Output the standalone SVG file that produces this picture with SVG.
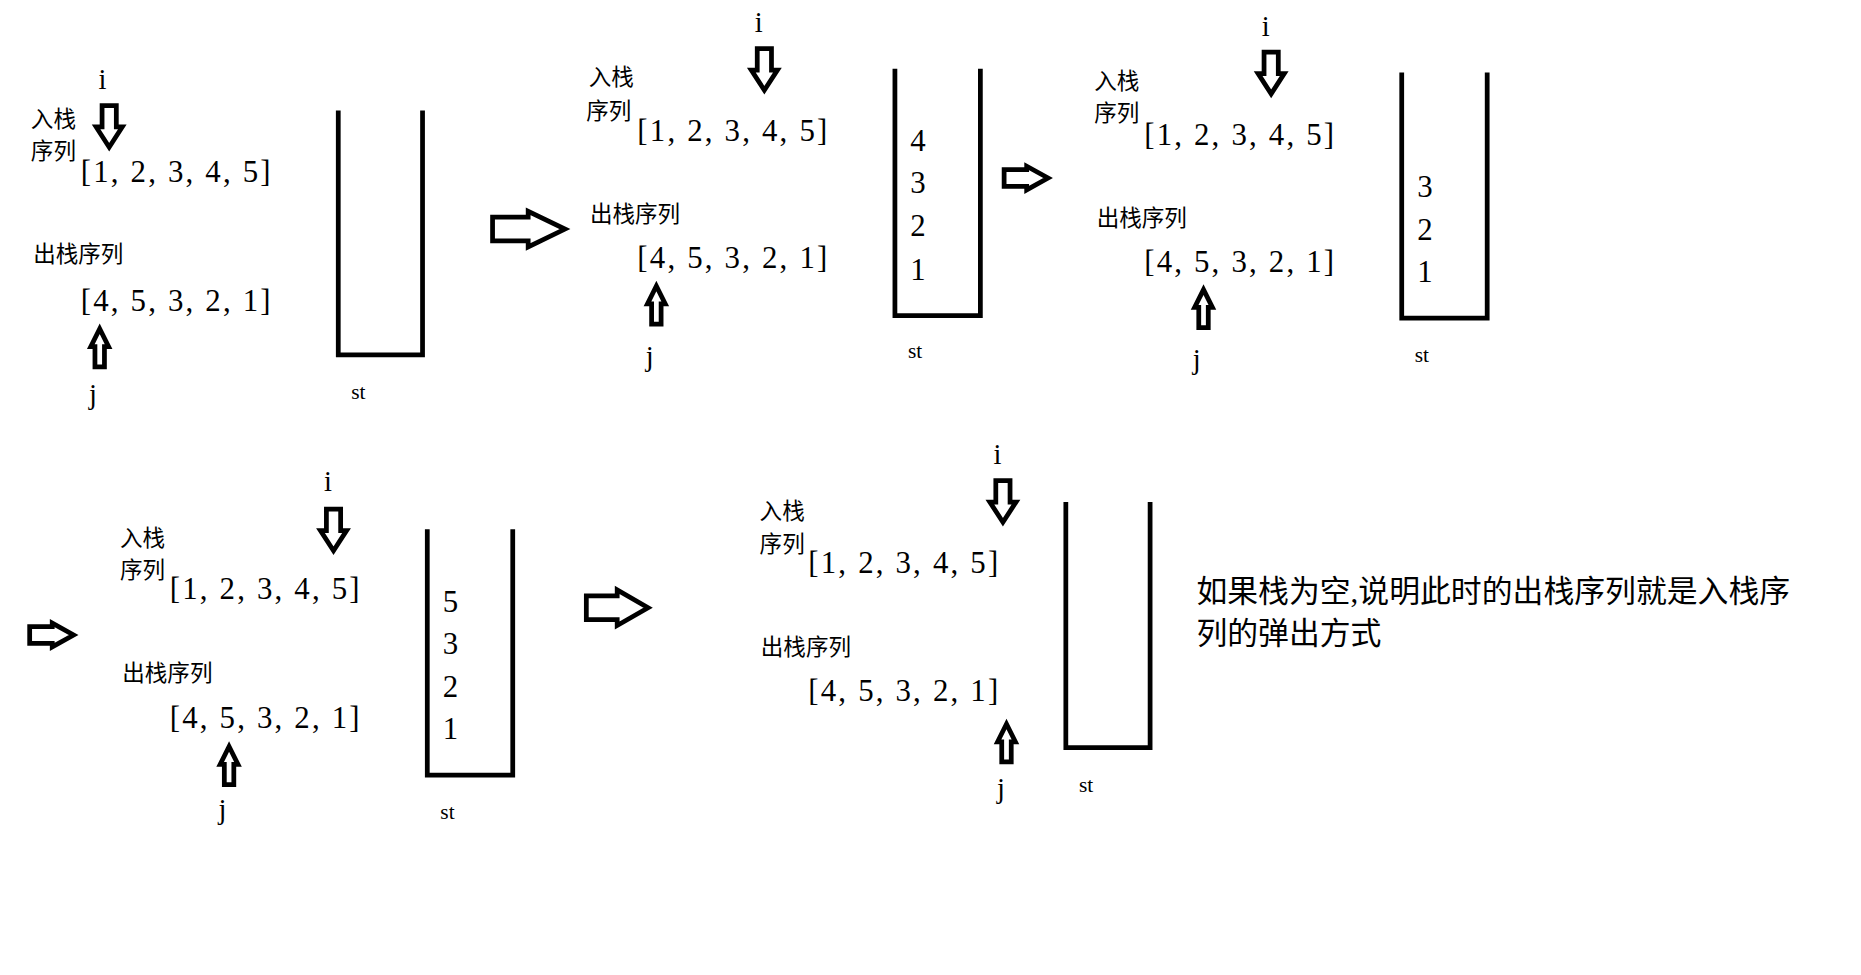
<svg xmlns="http://www.w3.org/2000/svg" width="1861" height="975" viewBox="0 0 1861 975">
<defs>
<style>
text{font-family:"Liberation Serif","Noto Sans CJK SC",serif;fill:#000}
.v{font-size:24px}.c{font-size:19px}.a{font-size:26px}.s{font-size:18px}
.st{fill:none;stroke:#000;stroke-width:4}
.ar{fill:#fff;stroke:#000;stroke-width:4;stroke-linejoin:miter}
</style>
<path id="dn" class="ar" d="M-6,-35 H6 V-17 H11 L0,0 L-11,-17 H-6 Z"/>
<path id="up" class="ar" d="M-4,32 H4 V15 H7.5 L0,0 L-7.5,15 H-4 Z"/>
<path id="rb" class="ar" d="M-61,-10 H-31 V-15 L0,0 L-31,15 V10 H-61 Z"/>
<path id="rs" class="ar" d="M-37,-7 H-18 V-10 L0,0 L-18,10 V7 H-37 Z"/>
</defs>
<rect width="1861" height="975" fill="#fff"/>
<g transform="scale(1.1869)">
<g id="p1">
<text class="v" x="83" y="75">i</text><use href="#dn" x="92" y="124"/>
<text class="c" x="26" y="107">入栈</text><text class="c" x="26" y="134">序列</text>
<text class="a" x="68" y="153" textLength="160">[1, 2, 3, 4, 5]</text>
<text class="c" x="28" y="221">出栈序列</text>
<text class="a" x="68" y="262" textLength="160">[4, 5, 3, 2, 1]</text>
<use href="#up" x="84" y="277"/><text class="v" x="75" y="340">j</text>
<path class="st" d="M285,93 V299 H356 V93"/><text class="s" x="296" y="336">st</text>
</g>
<g id="p2">
<text class="v" x="636" y="27">i</text><use href="#dn" x="644" y="76"/>
<text class="c" x="496" y="72">入栈</text><text class="c" x="494" y="100">序列</text>
<text class="a" x="537" y="119" textLength="160">[1, 2, 3, 4, 5]</text>
<text class="c" x="497" y="187">出栈序列</text>
<text class="a" x="537" y="226" textLength="160">[4, 5, 3, 2, 1]</text>
<use href="#up" x="553" y="241"/><text class="v" x="544" y="308">j</text>
<path class="st" d="M754,58 V266 H826 V58"/>
<text class="a" x="767" y="127">4</text><text class="a" x="767" y="163">3</text><text class="a" x="767" y="199">2</text><text class="a" x="767" y="236">1</text>
<text class="s" x="765" y="302">st</text>
</g>
<g id="p3">
<text class="v" x="1063" y="30">i</text><use href="#dn" x="1071" y="79"/>
<text class="c" x="922" y="75">入栈</text><text class="c" x="922" y="102">序列</text>
<text class="a" x="964" y="122" textLength="160">[1, 2, 3, 4, 5]</text>
<text class="c" x="924" y="190">出栈序列</text>
<text class="a" x="964" y="229" textLength="160">[4, 5, 3, 2, 1]</text>
<use href="#up" x="1014" y="244"/><text class="v" x="1005" y="311">j</text>
<path class="st" d="M1181,61 V268 H1253 V61"/>
<text class="a" x="1194" y="166">3</text><text class="a" x="1194" y="202">2</text><text class="a" x="1194" y="238">1</text>
<text class="s" x="1192" y="305">st</text>
</g>
<g id="p4">
<text class="v" x="273" y="414">i</text><use href="#dn" x="281" y="464"/>
<text class="c" x="101" y="460">入栈</text><text class="c" x="101" y="487">序列</text>
<text class="a" x="143" y="505" textLength="160">[1, 2, 3, 4, 5]</text>
<text class="c" x="103" y="574">出栈序列</text>
<text class="a" x="143" y="613" textLength="160">[4, 5, 3, 2, 1]</text>
<use href="#up" x="193" y="629"/><text class="v" x="184" y="690">j</text>
<path class="st" d="M360,446 V653 H432 V446"/>
<text class="a" x="373" y="516">5</text><text class="a" x="373" y="551">3</text><text class="a" x="373" y="587">2</text><text class="a" x="373" y="623">1</text>
<text class="s" x="371" y="690">st</text>
</g>
<g id="p5">
<text class="v" x="837" y="391">i</text><use href="#dn" x="845" y="440"/>
<text class="c" x="640" y="437">入栈</text><text class="c" x="640" y="465">序列</text>
<text class="a" x="681" y="483" textLength="160">[1, 2, 3, 4, 5]</text>
<text class="c" x="641" y="552">出栈序列</text>
<text class="a" x="681" y="591" textLength="160">[4, 5, 3, 2, 1]</text>
<use href="#up" x="848" y="610"/><text class="v" x="840" y="672">j</text>
<path class="st" d="M898,423 V630 H969 V423"/>
<text class="s" x="909" y="667">st</text>
<text class="a" x="1008" y="507">如果栈为空,说明此时的出栈序列就是入栈序</text>
<text class="a" x="1008" y="543">列的弹出方式</text>
</g>
<g id="connectors">
<use href="#rb" x="476" y="193"/>
<use href="#rs" x="883" y="150"/>
<use href="#rs" x="62" y="535"/>
<path class="ar" d="M494,502 H520 V497 L546,512 L520,527 V522 H494 Z"/>
</g>
</g>
</svg>
